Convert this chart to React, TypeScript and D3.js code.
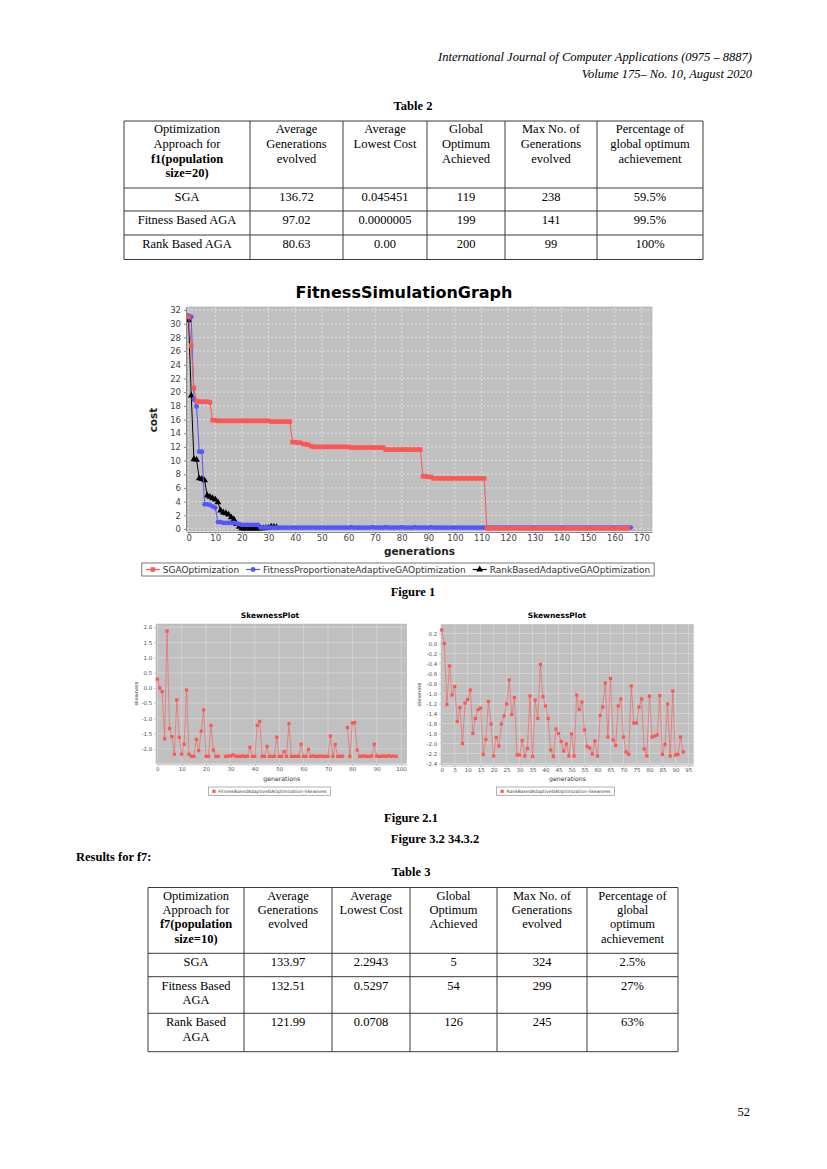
import { useEffect, useRef } from "react";
import * as d3 from "d3";

// ---------- page text ----------
const journalLine = "International Journal of Computer Applications (0975 – 8887)";
const volumeLine = "Volume 175– No. 10, August 2020";

// ---------- Table 2 (f1) ----------
const table2Head: string[][] = [
  ["Optimization", "Approach for", "f1(population", "size=20)"],
  ["Average", "Generations", "evolved"],
  ["Average", "Lowest Cost"],
  ["Global", "Optimum", "Achieved"],
  ["Max No. of", "Generations", "evolved"],
  ["Percentage of", "global optimum", "achievement"],
];
const table2Body: string[][] = [
  ["SGA", "136.72", "0.045451", "119", "238", "59.5%"],
  ["Fitness Based AGA", "97.02", "0.0000005", "199", "141", "99.5%"],
  ["Rank Based AGA", "80.63", "0.00", "200", "99", "100%"],
];

// ---------- Table 3 (f7) ----------
const table3Head: string[][] = [
  ["Optimization", "Approach for", "f7(population", "size=10)"],
  ["Average", "Generations", "evolved"],
  ["Average", "Lowest Cost"],
  ["Global", "Optimum", "Achieved"],
  ["Max No. of", "Generations", "evolved"],
  ["Percentage of", "global", "optimum", "achievement"],
];
const table3Body: string[][] = [
  ["SGA", "133.97", "2.2943", "5", "324", "2.5%"],
  ["Fitness Based\nAGA", "132.51", "0.5297", "54", "299", "27%"],
  ["Rank Based\nAGA", "121.99", "0.0708", "126", "245", "63%"],
];

// ---------- Figure 1: cost per generation ----------
const mainTitle = "FitnessSimulationGraph";
const seriesNames = [
  "SGAOptimization",
  "FitnessProportionateAdaptiveGAOptimization",
  "RankBasedAdaptiveGAOptimization",
];
// index = generation
const sgaCost = [
  31.0, 26.8, 20.6,
  18.7, 18.6, 18.6, 18.6, 18.6, 18.5,
  15.9, 15.9, 15.8, 15.8, 15.8, 15.8, 15.8, 15.8, 15.8, 15.8,
  15.8, 15.8, 15.8, 15.8, 15.8, 15.8, 15.8, 15.8, 15.8, 15.8, 15.8, 15.8,
  15.7, 15.7, 15.7, 15.7, 15.7, 15.7, 15.7, 15.7,
  12.7, 12.7, 12.6, 12.6,
  12.4, 12.4, 12.3,
  12.1, 12.0, 12.0, 12.0, 12.0, 12.0, 12.0, 12.0, 12.0, 12.0, 12.0, 12.0, 12.0, 12.0, 12.0,
  11.9, 11.9, 11.9, 11.9, 11.9, 11.9, 11.9, 11.9, 11.9, 11.9, 11.9, 11.9, 11.9,
  11.6, 11.6, 11.6, 11.6, 11.6, 11.6, 11.6, 11.6, 11.6, 11.6, 11.6, 11.6, 11.6, 11.6,
  7.7, 7.7, 7.6, 7.6,
  7.4, 7.4, 7.4, 7.4, 7.4, 7.4, 7.4, 7.4, 7.4, 7.4,
  7.4, 7.4, 7.4, 7.4, 7.4, 7.4, 7.4, 7.4, 7.4, 7.4,
  0.1, 0.1, 0.1, 0.1, 0.1, 0.1, 0.1, 0.1, 0.1, 0.1,
  0.1, 0.1, 0.1, 0.1, 0.1, 0.1, 0.1, 0.1, 0.1, 0.1,
  0.1, 0.1, 0.1, 0.1, 0.1, 0.1, 0.1, 0.1, 0.1, 0.1,
  0.1, 0.1, 0.1, 0.1, 0.1, 0.1, 0.1, 0.1, 0.1, 0.1,
  0.1, 0.1, 0.1, 0.1, 0.1, 0.1, 0.1, 0.1, 0.1, 0.1,
  0.1, 0.1, 0.1, 0.1,
];
const fitnessCost = [
  31.2, 31.0, 18.9, 17.9, 11.3, 11.3, 3.6, 3.6, 3.5, 3.3, 3.1,
  1.0, 1.0, 0.9, 0.9, 0.9, 0.9, 0.9,
  0.8, 0.7,
  0.6, 0.6, 0.6, 0.6, 0.6, 0.6, 0.6,
  0.2, 0.2, 0.2, 0.2, 0.2, 0.2, 0.2, 0.2, 0.2, 0.2,
  0.2, 0.2, 0.2, 0.2, 0.2, 0.2, 0.2, 0.2, 0.2, 0.2,
  0.2, 0.2, 0.2, 0.2, 0.2, 0.2, 0.2, 0.2, 0.2, 0.2,
  0.2, 0.2, 0.2, 0.2, 0.25, 0.2, 0.2, 0.2, 0.2, 0.2,
  0.2, 0.2, 0.25, 0.2, 0.2, 0.2, 0.2, 0.25, 0.2, 0.2,
  0.2, 0.2, 0.2, 0.25, 0.2, 0.2, 0.2, 0.2, 0.25, 0.2,
  0.2, 0.2, 0.2, 0.2, 0.25, 0.2, 0.2, 0.2, 0.2, 0.2,
  0.2, 0.2, 0.2, 0.2, 0.2, 0.2, 0.2, 0.2, 0.2, 0.2,
  0.2, 0.2, 0.2, 0.2, 0.2, 0.2, 0.2, 0.2, 0.2, 0.2,
  0.2, 0.2, 0.2, 0.2, 0.2, 0.2, 0.2, 0.2, 0.2, 0.2,
  0.2, 0.2, 0.2, 0.2, 0.2, 0.2, 0.2, 0.2, 0.2, 0.2,
  0.2, 0.2, 0.2, 0.2, 0.2, 0.2, 0.2, 0.2, 0.2, 0.2,
  0.2, 0.2, 0.2, 0.2, 0.2, 0.2, 0.2, 0.2, 0.2, 0.2,
  0.2, 0.2, 0.2, 0.2, 0.2, 0.2, 0.2, 0.2, 0.2, 0.2,
];
const rankCost = [
  30.5, 19.5, 10.2, 10.1, 7.4, 7.3, 7.1, 4.9, 4.7, 4.5,
  4.3, 3.9, 2.7, 2.4, 2.3, 2.1, 1.7, 1.4, 0.7, 0.3,
  0.05, 0.05, 0.05, 0.05, 0.05, 0.05, 0.05,
  0.1, 0.1, 0.15, 0.2, 0.35, 0.3, 0.25,
];

// ---------- Figure 2.1: skewness plots ----------
const skewTitle = "SkewnessPlot";
const skewLeftName = "FitnessBasedAdaptiveGAOptimization-Skewness";
const skewRightName = "RankBasedAdaptiveGAOptimization-Skewness";
const skewFitness: (number | null)[] = [
  0.29, 0.0, -0.12, -1.67, 1.87, -1.33, -1.6, -2.18, -0.39, -1.62,
  -2.18, -1.85, -0.07, -2.18, -2.25, -2.25, -1.69, -2.06, -1.42, -0.72,
  -2.25, -2.25, -1.23, -2.04, -2.25, -2.25, null, null, -2.25, -2.24,
  -2.24, -2.2, -2.24, -2.25, -2.25, -2.24, -2.25, -2.25, -1.95, -2.25,
  -2.25, -1.23, -1.1, -2.25, -2.25, -1.92, -2.25, -2.25, -2.25, -1.62,
  -2.25, -2.25, -2.09, -2.25, -1.17, -2.25, -2.25, -2.25, -2.25, -1.85,
  -2.25, -2.25, -2.02, -2.25, -2.24, -2.25, -2.25, -2.24, -2.25, -2.25,
  -2.25, -1.58, -2.25, -1.86, -2.25, -2.25, -2.24, null, -1.3, -2.25,
  -1.15, -1.14, -2.04, -2.25, -2.24, -2.24, -2.25, -2.25, -2.24, -1.85,
  -2.24, -2.25, -2.25, -2.24, -2.25, -2.23, -2.25, -2.24, -2.25,
];
const skewRank: (number | null)[] = [
  0.27, 0.0, -1.22, -0.45, -1.03, -0.86, -1.56, -1.28, -2.0, -1.19,
  -1.12, -0.93, -1.8, -1.5, -1.32, -1.29, -2.22, -1.92, -1.16, -1.61,
  -2.25, -1.88, -2.05, -1.61, -1.45, -1.21, -0.73, -1.42, -1.08, -2.23,
  -2.23, -1.94, -2.25, -2.1, -1.05, -2.26, -1.13, -1.5, -0.42, -1.06,
  -1.25, -1.5, -2.13, -2.26, -1.71, -1.8, -1.96, -2.15, -2.01, -2.25,
  -1.81, -2.25, -1.03, -1.32, -1.17, -1.73, -2.06, -2.09, -2.21, -1.95,
  -2.25, -1.44, -1.27, -0.79, -1.87, -0.7, -1.93, -2.04, -1.25, -1.11,
  -1.87, -2.17, -2.22, -0.85, -1.59, -1.59, -1.27, -1.11, -2.11, -2.25,
  -1.05, -1.87, -1.85, -1.83, -1.04, -2.22, -2.02, -1.21, -2.25, -0.95,
  -2.23, -2.22, -1.87, -2.17,
];

const SERIF = "'Liberation Serif', 'Times New Roman', serif";
const SANS = "'DejaVu Sans', sans-serif";
const PLOT_BG = "#c0c0c0";
const RED = "#ff5555";
const BLUE = "#5555ff";
const TEXT_SIZE = 12.5;

type Sel = d3.Selection<any, any, any, any>;

const txt = (g: Sel, s: string, x: number, y: number, o: any = {}) =>
  g
    .append("text")
    .attr("x", x)
    .attr("y", y)
    .text(s)
    .attr("font-family", o.font ?? SERIF)
    .attr("font-size", o.size ?? TEXT_SIZE)
    .attr("font-weight", o.bold ? "bold" : null)
    .attr("font-style", o.italic ? "italic" : null)
    .attr("text-anchor", o.anchor ?? "start")
    .attr("fill", o.fill ?? "#000");

function drawTable(
  svg: Sel,
  cols: number[],
  rows: number[],
  head: string[][],
  body: string[][],
  headFirst: number,
  headLine: number,
  bodyFirst: number,
  bodyLine: number
) {
  const g = svg.append("g");
  const left = cols[0], right = cols[cols.length - 1];
  const top = rows[0], bottom = rows[rows.length - 1];
  cols.forEach((c) =>
    g.append("line").attr("x1", c).attr("x2", c).attr("y1", top).attr("y2", bottom)
  );
  rows.forEach((r) =>
    g.append("line").attr("x1", left).attr("x2", right).attr("y1", r).attr("y2", r)
  );
  g.selectAll("line").attr("stroke", "#3a3a3a").attr("stroke-width", 1);

  const mid = (i: number) => (cols[i] + cols[i + 1]) / 2;
  head.forEach((lines, ci) =>
    lines.forEach((t, li) =>
      txt(g, t, mid(ci), top + headFirst + li * headLine, {
        anchor: "middle",
        bold: ci === 0 && li >= 2,
      })
    )
  );
  body.forEach((row, ri) =>
    row.forEach((cell, ci) =>
      cell.split("\n").forEach((t, li) =>
        txt(g, t, mid(ci), rows[ri + 1] + bodyFirst + li * bodyLine, { anchor: "middle" })
      )
    )
  );
}

function drawFitness(svg: Sel) {
  const L = 187, R = 652, T = 307, B = 531;
  const chartMid = 398;
  const g = svg.append("g");
  const x = d3.scaleLinear().domain([-0.6, 174]).range([L, R]);
  const y = d3.scaleLinear().domain([-0.3, 32.45]).range([B, T]);

  txt(g, mainTitle, chartMid + 6, 297.5, { font: SANS, size: 16, bold: true, anchor: "middle" });

  g.append("rect")
    .attr("x", L).attr("y", T).attr("width", R - L).attr("height", B - T)
    .attr("fill", PLOT_BG).attr("stroke", "#999").attr("stroke-width", 0.5);

  const grid = g.append("g")
    .attr("stroke", "#f4f4f4").attr("stroke-width", 0.6)
    .attr("stroke-dasharray", "2,2");
  x.ticks(17).forEach((v) =>
    grid.append("line").attr("x1", x(v)).attr("x2", x(v)).attr("y1", T).attr("y2", B)
  );
  y.ticks(16).forEach((v) =>
    grid.append("line").attr("x1", L).attr("x2", R).attr("y1", y(v)).attr("y2", y(v))
  );

  const ya = g.append("g")
    .attr("transform", `translate(${L - 1},0)`)
    .call(d3.axisLeft(y).ticks(16).tickSize(2).tickPadding(3).tickSizeOuter(0));
  const xa = g.append("g")
    .attr("transform", `translate(0,${B + 1})`)
    .call(d3.axisBottom(x).ticks(17).tickSize(2).tickPadding(1).tickSizeOuter(0));
  [ya, xa].forEach((a) => {
    a.select(".domain").attr("stroke", "#888");
    a.selectAll(".tick line").attr("stroke", "#888");
    a.selectAll("text").attr("font-family", SANS).attr("font-size", 8.5).attr("fill", "#444");
  });

  txt(g, "generations", (L + R) / 2, 555, {
    font: SANS, size: 10.5, bold: true, anchor: "middle", fill: "#222",
  });
  txt(g, "cost", 0, 0, { font: SANS, size: 10.5, bold: true, anchor: "middle", fill: "#222" })
    .attr("transform", `translate(157,420) rotate(-90)`);

  const series = [
    { name: seriesNames[2], data: rankCost, color: "#000", sym: d3.symbolTriangle, size: 20 },
    { name: seriesNames[1], data: fitnessCost, color: BLUE, sym: d3.symbolCircle, size: 18 },
    { name: seriesNames[0], data: sgaCost, color: RED, sym: d3.symbolSquare, size: 20 },
  ];

  const clip = g.append("clipPath").attr("id", "fit-clip");
  clip.append("rect").attr("x", L).attr("y", T - 3).attr("width", R - L).attr("height", B - T + 3);
  const marks = g.append("g").attr("clip-path", "url(#fit-clip)");

  series.forEach((s) => {
    const line = d3.line<number>().x((_, i) => x(i)).y((d) => y(d));
    marks.append("path").attr("d", line(s.data)).attr("fill", "none")
      .attr("stroke", s.color).attr("stroke-width", 1);
    marks.append("g").selectAll("path").data(s.data).join("path")
      .attr("transform", (d, i) => `translate(${x(i)},${y(d)})`)
      .attr("d", d3.symbol().type(s.sym).size(s.size)())
      .attr("fill", s.color);
  });

  // legend
  const box = g.append("rect");
  const leg = g.append("g");
  let cx = 0;
  [...series].reverse().forEach((s) => {
    const it = leg.append("g").attr("transform", `translate(${cx},0)`);
    it.append("line").attr("x1", 0).attr("x2", 14).attr("stroke", s.color).attr("stroke-width", 1.2);
    it.append("path").attr("transform", "translate(7,0)")
      .attr("d", d3.symbol().type(s.sym).size(s.size)()).attr("fill", s.color);
    const t = txt(it, s.name, 17, 3.2, { font: SANS, size: 9, fill: "#333" });
    cx += 17 + (t.node() as SVGTextElement).getComputedTextLength() + 7;
  });
  const lw = cx - 7 + 8;
  const lx = chartMid - lw / 2;
  leg.attr("transform", `translate(${lx + 4},569.5)`);
  box.attr("x", lx).attr("y", 563).attr("width", lw).attr("height", 13)
    .attr("fill", "#fff").attr("stroke", "#555").attr("stroke-width", 0.8);
}

function drawSkew(svg: Sel, o: any) {
  const { L, R, T, B } = o;
  const g = svg.append("g");
  const x = d3.scaleLinear().domain(o.xDomain).range([L, R]);
  const y = d3.scaleLinear().domain(o.yDomain).range([B, T]);

  txt(g, skewTitle, o.titleX, 618, { font: SANS, size: 7.5, bold: true, anchor: "middle" });
  g.append("rect")
    .attr("x", L).attr("y", T).attr("width", R - L).attr("height", B - T)
    .attr("fill", PLOT_BG).attr("stroke", "#aaa").attr("stroke-width", 0.4);

  const grid = g.append("g").attr("stroke", "#ececec").attr("stroke-width", 0.4);
  x.ticks(o.xTicks).forEach((v) =>
    grid.append("line").attr("x1", x(v)).attr("x2", x(v)).attr("y1", T).attr("y2", B)
  );
  y.ticks(o.yTicks).forEach((v) =>
    grid.append("line").attr("x1", L).attr("x2", R).attr("y1", y(v)).attr("y2", y(v))
  );

  const ya = g.append("g")
    .attr("transform", `translate(${L - 1},0)`)
    .call(d3.axisLeft(y).ticks(o.yTicks).tickSize(1.5).tickPadding(2).tickSizeOuter(0)
      .tickFormat((d: any) => (+d).toFixed(1)));
  const xa = g.append("g")
    .attr("transform", `translate(0,${B + 1})`)
    .call(d3.axisBottom(x).ticks(o.xTicks).tickSize(1.5).tickPadding(1.5).tickSizeOuter(0));
  [ya, xa].forEach((a) => {
    a.select(".domain").attr("stroke", "#999").attr("stroke-width", 0.6);
    a.selectAll(".tick line").attr("stroke", "#999").attr("stroke-width", 0.6);
    a.selectAll("text").attr("font-family", SANS).attr("font-size", 5.5).attr("fill", "#555");
  });

  txt(g, "generations", (L + R) / 2, 781, { font: SANS, size: 6.2, anchor: "middle", fill: "#333" });
  txt(g, "skewness", 0, 0, { font: SANS, size: 5, anchor: "middle", fill: "#333" })
    .attr("transform", `translate(${o.yLabelX},${(T + B) / 2}) rotate(-90)`);

  const line = d3.line<number | null>()
    .defined((d) => d != null)
    .x((_, i) => x(i))
    .y((d) => y(d as number));
  g.append("path").attr("d", line(o.data)).attr("fill", "none")
    .attr("stroke", RED).attr("stroke-width", 0.6);
  g.append("g").selectAll("rect")
    .data(o.data.map((d: number | null, i: number) => ({ d, i })).filter((p: any) => p.d != null))
    .join("rect")
    .attr("x", (p: any) => x(p.i) - 1.6)
    .attr("y", (p: any) => y(p.d) - 1.6)
    .attr("width", 3.2).attr("height", 3.2)
    .attr("fill", RED);

  // legend
  const box = g.append("rect");
  const it = g.append("g");
  it.append("rect").attr("x", 0).attr("y", -1.6).attr("width", 3.2).attr("height", 3.2).attr("fill", RED);
  const t = txt(it, o.name, 6, 1.6, { font: SANS, size: 4.5, fill: "#444" });
  const lw = 6 + (t.node() as SVGTextElement).getComputedTextLength() + 8;
  const lx = o.legendX - lw / 2;
  it.attr("transform", `translate(${lx + 4},791.3)`);
  box.attr("x", lx).attr("y", 787).attr("width", lw).attr("height", 8.5)
    .attr("fill", "#fff").attr("stroke", "#666").attr("stroke-width", 0.5);
}

export default function App() {
  const ref = useRef<SVGSVGElement | null>(null);

  useEffect(() => {
    const svg = d3.select(ref.current) as Sel;
    svg.selectAll("*").remove();

    txt(svg, journalLine, 752, 61, { italic: true, anchor: "end" });
    txt(svg, volumeLine, 752, 77.5, { italic: true, anchor: "end" });
    txt(svg, "Table 2", 413, 110, { bold: true, anchor: "middle" });

    drawTable(svg, [124, 250, 343, 427, 505, 597, 703], [121, 188, 211, 235, 259.5],
      table2Head, table2Body, 12, 14.8, 12.5, 14.6);

    drawFitness(svg);
    txt(svg, "Figure 1", 413, 596, { bold: true, anchor: "middle" });

    drawSkew(svg, {
      L: 156.7, R: 406.7, T: 624, B: 763.3,
      xDomain: [-0.25, 102.3], yDomain: [-2.477, 2.105],
      xTicks: 10, yTicks: 9, data: skewFitness, name: skewLeftName,
      titleX: 270, yLabelX: 138, legendX: 269.5,
    });
    drawSkew(svg, {
      L: 441.7, R: 693.3, T: 624.5, B: 764.5,
      xDomain: [0, 96.9], yDomain: [-2.42, 0.38],
      xTicks: 20, yTicks: 14, data: skewRank, name: skewRightName,
      titleX: 557, yLabelX: 421, legendX: 555.5,
    });

    txt(svg, "Figure 2.1", 411, 822, { bold: true, anchor: "middle" });
    txt(svg, "Figure 3.2 34.3.2", 435, 843, { bold: true, anchor: "middle" });
    txt(svg, "Results for f7:", 76, 861, { bold: true });
    txt(svg, "Table 3", 411, 875.5, { bold: true, anchor: "middle" });

    drawTable(svg, [148, 244, 332, 410, 497, 587, 678], [887.5, 953.3, 976.7, 1013.3, 1051.7],
      table3Head, table3Body, 12.3, 14.3, 12.8, 14.6);

    txt(svg, "52", 750, 1116, { anchor: "end" });
  }, []);

  return (
    <svg
      ref={ref}
      width={827}
      height={1169}
      style={{ position: "absolute", left: 0, top: 0, background: "#fff" }}
    />
  );
}
